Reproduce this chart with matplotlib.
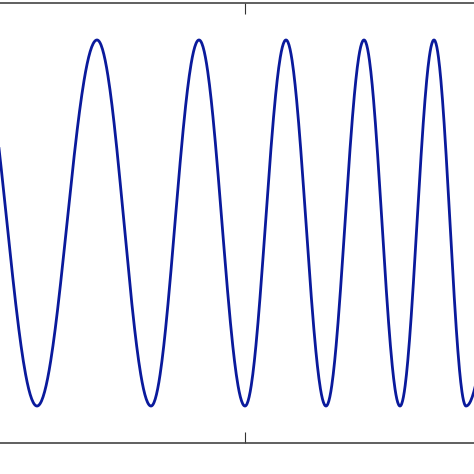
import matplotlib
matplotlib.use("Agg")
import matplotlib.pyplot as plt
import numpy as np

# extrema positions (x, value)
ext_x = [-23, 37, 97, 151, 199, 245, 286, 326, 364, 400, 434, 466, 528]
ext_y = [1, -1, 1, -1, 1, -1, 1, -1, 1, -1, 1, -1, 1]

xs, ys = [], []
for i in range(len(ext_x) - 1):
    x0, x1 = ext_x[i], ext_x[i + 1]
    t = np.linspace(0, 1, 80)
    xs.append(x0 + (x1 - x0) * t)
    ys.append(ext_y[i] * np.cos(np.pi * t))
x = np.concatenate(xs)
y = np.concatenate(ys)

fig = plt.figure(figsize=(4.74, 4.74), dpi=100)
ax = fig.add_axes([0, 1 - 443 / 474, 1, 440 / 474])
ax.plot(x, y, color="#0a1a9c", lw=2)
ax.set_xlim(0, 474)
ax.set_ylim(-1.202, 1.202)
ax.set_xticks([245])
ax.set_yticks([])
ax.set_xticklabels([])
ax.tick_params(axis="x", direction="in", length=8, top=True, bottom=True, color="#333333")
for s in ["left", "right"]:
    ax.spines[s].set_visible(False)
for s in ["top", "bottom"]:
    ax.spines[s].set_color("#444444")
    ax.spines[s].set_linewidth(1.2)
fig.savefig("out.png", dpi=100)
